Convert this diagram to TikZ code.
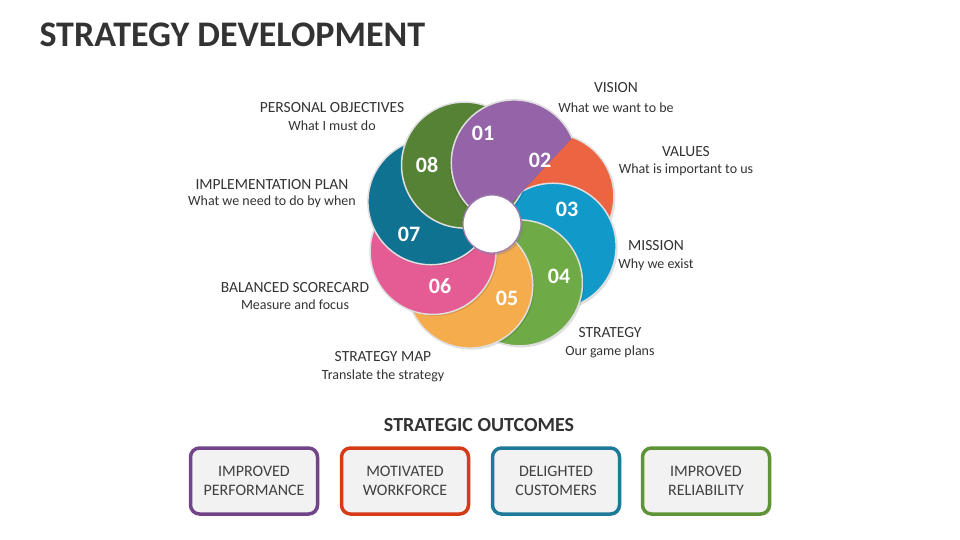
\documentclass[tikz,border=0pt]{standalone}
\usepackage{fontspec}
\setmainfont{Carlito}
\usetikzlibrary{shadows,calc}
\definecolor{txt}{HTML}{333333}
\definecolor{cA}{HTML}{9463A8}\definecolor{cB}{HTML}{EC6441}
\definecolor{cC}{HTML}{1199C9}\definecolor{cD}{HTML}{6EAA45}
\definecolor{cE}{HTML}{F4AC4D}\definecolor{cF}{HTML}{E55C95}
\definecolor{cG}{HTML}{0F7290}\definecolor{cH}{HTML}{568236}
\definecolor{bA}{HTML}{72448A}\definecolor{bB}{HTML}{D63A17}
\definecolor{bC}{HTML}{1F7A99}\definecolor{bD}{HTML}{5E9436}
\tikzset{
 petal/.style={draw=gray!25,line width=1.5pt},
 num/.style={text=white,font=\fontsize{22}{22}\selectfont\bfseries},
 ttl/.style={text=txt,font=\fontsize{15.5}{17}\selectfont},
 sub/.style={text=txt,font=\fontsize{14}{15}\selectfont},
 obox/.style={draw,line width=3.5pt,rounded corners=9pt,fill=gray!10,minimum width=127pt,minimum height=66pt,align=center,text=black!75,font=\fontsize{16}{19}\selectfont,drop shadow={opacity=0.3,shadow xshift=1.5pt,shadow yshift=-1.5pt}}
}
\begin{document}
\begin{tikzpicture}[x=1pt,y=-1pt]
\useasboundingbox (0,0) rectangle (960,540);
\node[anchor=west,text=black!80,font=\fontsize{36}{36}\selectfont\bfseries] (title) at (36,35) {STRATEGY DEVELOPMENT};
\coordinate (c) at (492,224);
\foreach \a/\col in {70/cA,25/cB,-20/cC,-65/cD,-110/cE,-155/cF,160/cG,115/cH}{
  \fill[black,opacity=0.12] ($(c)+(\a:65pt)+(1.5,1.5)$) circle (63);
  \draw[petal,fill=\col] ($(c)+(\a:65pt)$) circle (63);
}
\begin{scope}
\clip (c) -- ($(c)+(47:200pt)$) -- ($(c)+(90:200pt)$) -- ($(c)+(120:200pt)$) -- ($(c)+(150:200pt)$) -- cycle;
\fill[black,opacity=0.12] ($(c)+(70:65pt)+(-1.5,1.5)$) circle (63);
\draw[petal,fill=cA] ($(c)+(70:65pt)$) circle (63);
\end{scope}
\draw[draw=bA!70,line width=1.2pt,fill=white,drop shadow={opacity=0.3}] (c) circle (29);
\node[num] (n1) at (483,133) {01};
\node[num] (n2) at (540,160) {02};
\node[num] (n3) at (567,209) {03};
\node[num] (n4) at (559,276) {04};
\node[num] (n5) at (507,298) {05};
\node[num] (n6) at (440,286) {06};
\node[num] (n7) at (409,234) {07};
\node[num] (n8) at (427,165) {08};
\node[ttl] (t1) at (616,88) {VISION};
\node[sub] (s1) at (616,108) {What we want to be};
\node[ttl] (t2) at (686,152) {VALUES};
\node[sub] (s2) at (686,170) {What is important to us};
\node[ttl] (t3) at (656,246) {MISSION};
\node[sub] (s3) at (656,265) {Why we exist};
\node[ttl] (t4) at (610,333) {STRATEGY};
\node[sub] (s4) at (610,352) {Our game plans};
\node[ttl] (t5) at (383,357) {STRATEGY MAP};
\node[sub] (s5) at (383,376) {Translate the strategy};
\node[ttl] (t6) at (295,288) {BALANCED SCORECARD};
\node[sub] (s6) at (295,305) {Measure and focus};
\node[ttl] (t7) at (272,185) {IMPLEMENTATION PLAN};
\node[sub] (s7) at (272,202) {What we need to do by when};
\node[ttl] (t8) at (332,108) {PERSONAL OBJECTIVES};
\node[sub] (s8) at (332,126) {What I must do};
\node[text=black!80,font=\fontsize{20}{20}\selectfont\bfseries] (so) at (479,425) {STRATEGIC OUTCOMES};
\node[obox,draw=bA] (o1) at (254,481) {IMPROVED\\PERFORMANCE};
\node[obox,draw=bB] (o2) at (405,481) {MOTIVATED\\WORKFORCE};
\node[obox,draw=bC] (o3) at (556,481) {DELIGHTED\\CUSTOMERS};
\node[obox,draw=bD] (o4) at (706,481) {IMPROVED\\RELIABILITY};
\end{tikzpicture}
\end{document}
